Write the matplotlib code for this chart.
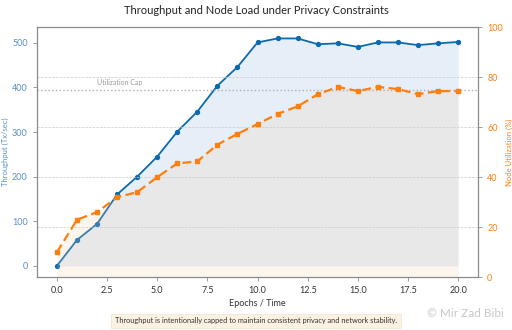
import numpy as np
import matplotlib
matplotlib.use("Agg")
import matplotlib.pyplot as plt

plt.rcParams['font.family'] = ['Lato', 'DejaVu Sans']

# epochs and measured series
epochs = np.arange(0, 21)
throughput = [0, 58, 94, 160, 200, 245, 301, 346, 404, 446, 501,
              510, 510, 497, 499, 491, 501, 501, 495, 499, 502]
utilization = [10, 23, 26, 32, 34, 40, 45.5, 46.3, 53, 57.3, 61.2,
               65.3, 68.3, 73.1, 76.1, 74.4, 76.1, 75.2, 73.2, 74.4, 74.4]
util_cap = 75

blue = "#0b6aad"
orange = "#ff7f0e"
tick_blue = "#5b8fc7"
spine_gray = "#8a8a8a"

fig, ax1 = plt.subplots(figsize=(5.12, 3.3), dpi=100)
fig.subplots_adjust(left=0.072, right=0.934, top=0.918, bottom=0.16)

ax1.plot(epochs, throughput, color=blue, lw=1.3, marker="o", ms=2.8, zorder=3)
ax1.fill_between(epochs, 0, throughput, color="#e6eef8", lw=0, zorder=1)
ax1.set_xlim(-1, 21)
ax1.set_xlabel("Epochs / Time", fontsize=6.5, color="#333333", labelpad=3)
ax1.set_ylabel("Throughput (Tx/sec)", fontsize=5.5, color=tick_blue, labelpad=2)
ax1.tick_params(axis="y", colors=tick_blue, labelsize=6.5, length=3, width=0.6)
ax1.tick_params(axis="x", colors="#333333", labelsize=6.5, length=3, width=0.6)

ax2 = ax1.twinx()
ax2.fill_between(epochs, 0, utilization, color="#f4d0a8", alpha=0.2, lw=0, zorder=1)
ax2.plot(epochs, utilization, color=orange, lw=1.6, ls=(0, (4, 2)), marker="s", ms=2.8, zorder=3)
ax2.set_ylim(0, 100)
ax2.set_ylabel("Node Utilization (%)", fontsize=5.5, color=orange, labelpad=2)
ax2.tick_params(axis="y", colors=orange, labelsize=6.5, length=3, width=0.6)
ax2.yaxis.grid(True, color="#cccccc", ls="--", lw=0.5)

ax2.axhline(util_cap, color="#b0b0b0", ls=":", lw=1.0)
ax2.text(2.0, util_cap + 2.0, "Utilization Cap", fontsize=5, color="#999999")

for ax in (ax1, ax2):
    for sp in ax.spines.values():
        sp.set_color(spine_gray)
        sp.set_linewidth(0.8)
ax1.tick_params(axis="both", color=spine_gray)
ax2.tick_params(axis="y", color=spine_gray)

fig.suptitle("Throughput and Node Load under Privacy Constraints", fontsize=8, color="#222222", y=0.985)

fig.text(0.5, 0.028, "Throughput is intentionally capped to maintain consistent privacy and network stability.",
         ha="center", va="center", fontsize=5.3, color="#333333",
         bbox=dict(boxstyle="square,pad=0.5", fc="#fdf1e2", ec="#f3e2cc", lw=0.5))
fig.text(0.985, 0.05, "\u00a9 Mir Zad Bibi", ha="right", va="center", fontsize=8.5, color="#c8c8c8")

fig.savefig("out.png", dpi=100)
